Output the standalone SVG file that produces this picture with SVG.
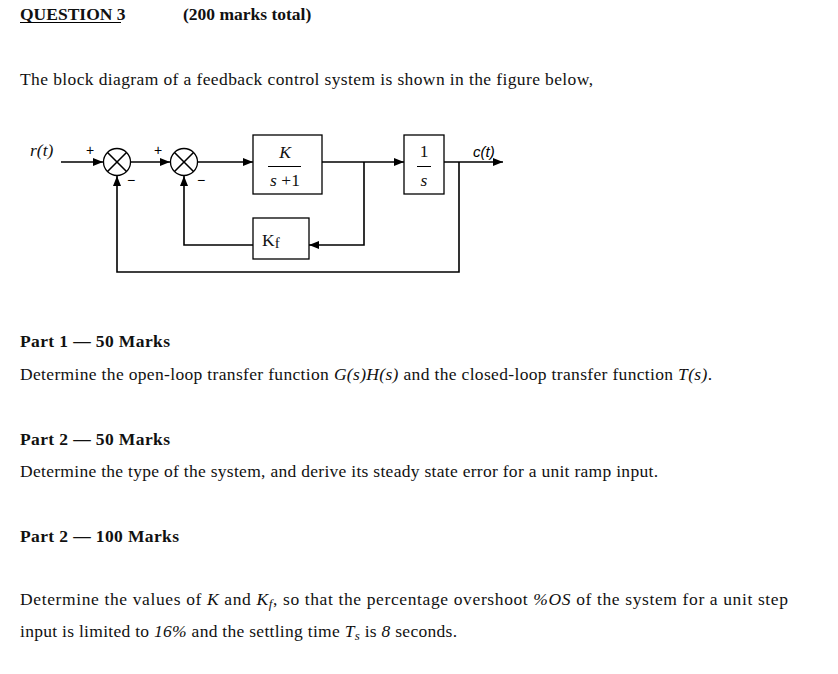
<svg xmlns="http://www.w3.org/2000/svg" width="838" height="674" viewBox="0 0 838 674">
<style>
.t{font-family:"Liberation Serif","Times New Roman",serif;font-size:17.5px;fill:#111}
.b{font-weight:bold}
.i{font-style:italic}
.ln{stroke:#000;stroke-width:1.6;fill:none}
.blk{stroke:#000;stroke-width:1.3;fill:#fff}
.sg{font-family:"Liberation Sans",Arial,sans-serif;font-size:14px;fill:#000}
</style>
<defs>
<marker id="ah" viewBox="0 0 10 8" refX="10" refY="4" markerWidth="11" markerHeight="8" markerUnits="userSpaceOnUse" orient="auto">
<path d="M0,0 L10,4 L0,8 z" fill="#000"/>
</marker>
</defs>
<rect width="838" height="674" fill="#fff"/>

<g id="header">
<text class="t b" x="20" y="20" font-size="16">QUESTION 3</text>
<line x1="20" y1="22.5" x2="121" y2="22.5" stroke="#000" stroke-width="1.2"/>
<text class="t b" x="183" y="20" font-size="16">(200 marks total)</text>
<text class="t" x="20" y="85" textLength="573">The block diagram of a feedback control system is shown in the figure below,</text>
</g>

<g id="connectors">
<line class="ln" x1="61" y1="162" x2="103" y2="162" marker-end="url(#ah)"/>
<line class="ln" x1="131" y1="162" x2="170" y2="162" marker-end="url(#ah)"/>
<line class="ln" x1="198" y1="162" x2="253" y2="162" marker-end="url(#ah)"/>
<line class="ln" x1="322" y1="162" x2="404" y2="162" marker-end="url(#ah)"/>
<line class="ln" x1="444" y1="162" x2="503" y2="162" marker-end="url(#ah)"/>
<polyline class="ln" points="364,162 364,245 309,245" marker-end="url(#ah)"/>
<polyline class="ln" points="253,245 184,245 184,176" marker-end="url(#ah)"/>
<polyline class="ln" points="459,162 459,272 117,272 117,176" marker-end="url(#ah)"/>
</g>

<g id="input">
<text class="t i" x="30" y="156" font-size="15">r(t)</text>
</g>

<g id="sum1">
<circle class="blk" cx="117" cy="162" r="13.5"/>
<line class="ln" x1="107.5" y1="152.5" x2="126.5" y2="171.5"/>
<line class="ln" x1="107.5" y1="171.5" x2="126.5" y2="152.5"/>
<text class="sg" x="90" y="155" text-anchor="middle">+</text>
<text class="sg" x="131" y="185" text-anchor="middle">−</text>
</g>

<g id="sum2">
<circle class="blk" cx="184" cy="162" r="13.5"/>
<line class="ln" x1="174.5" y1="152.5" x2="193.5" y2="171.5"/>
<line class="ln" x1="174.5" y1="171.5" x2="193.5" y2="152.5"/>
<text class="sg" x="158" y="155" text-anchor="middle">+</text>
<text class="sg" x="201" y="185" text-anchor="middle">−</text>
</g>

<g id="plant">
<rect class="blk" x="253" y="135" width="69" height="59"/>
<text class="t i" x="285" y="158" font-size="17" text-anchor="middle">K</text>
<line x1="268" y1="166.5" x2="301" y2="166.5" stroke="#000" stroke-width="1"/>
<text class="t" x="285" y="186" font-size="17" text-anchor="middle"><tspan font-style="italic">s</tspan> +1</text>
</g>

<g id="integrator">
<rect class="blk" x="404" y="135" width="40" height="59"/>
<text class="t" x="424" y="157" font-size="17" text-anchor="middle">1</text>
<line x1="417" y1="166.5" x2="431" y2="166.5" stroke="#000" stroke-width="1"/>
<text class="t i" x="424" y="186" font-size="17" text-anchor="middle">s</text>
</g>

<g id="feedback-kf">
<rect class="blk" x="253" y="218" width="56" height="41"/>
<text class="t" x="262" y="246" font-size="21">K<tspan font-size="15" dy="2">f</tspan></text>
</g>

<g id="output">
<text x="473" y="157" font-family="Liberation Sans,Arial,sans-serif" font-size="15" font-style="italic" fill="#000">c(t)</text>
</g>

<g id="parts">
<text class="t b" x="20" y="347" textLength="150">Part 1 — 50 Marks</text>
<text class="t" x="20" y="380" textLength="692">Determine the open-loop transfer function <tspan font-style="italic">G(s)H(s)</tspan> and the closed-loop transfer function <tspan font-style="italic">T(s)</tspan>.</text>
<text class="t b" x="20" y="445" textLength="150">Part 2 — 50 Marks</text>
<text class="t" x="20" y="477" textLength="638">Determine the type of the system, and derive its steady state error for a unit ramp input.</text>
<text class="t b" x="20" y="542" textLength="159">Part 2 — 100 Marks</text>
<text class="t" x="20" y="605" textLength="768">Determine the values of <tspan font-style="italic">K</tspan> and <tspan font-style="italic">K<tspan font-size="13" dy="3">f</tspan></tspan><tspan dy="-3">,</tspan> so that the percentage overshoot <tspan font-style="italic">%OS</tspan> of the system for a unit step</text>
<text class="t" x="20" y="637" textLength="437">input is limited to <tspan font-style="italic">16%</tspan> and the settling time <tspan font-style="italic">T<tspan font-size="13" dy="3">s</tspan></tspan><tspan dy="-3"> is </tspan><tspan font-style="italic">8</tspan> seconds.</text>
</g>
</svg>
